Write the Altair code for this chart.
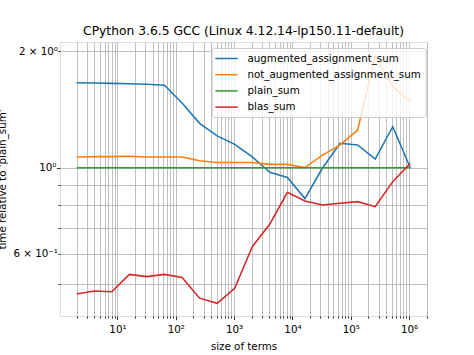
import altair as alt
import pandas as pd

# ---- data ----
terms = [2, 4, 8, 16, 32, 64, 128, 256, 512, 1024, 2048, 4096, 8192, 16384,
         32768, 65536, 131072, 262144, 524288, 1048576]
augmented_assignment_sum = [1.658, 1.655, 1.652, 1.648, 1.643, 1.633, 1.47, 1.302, 1.208, 1.149,
                            1.066, 0.973, 0.944, 0.832, 0.998, 1.156, 1.145, 1.053, 1.276, 1.0]
not_augmented_assignment_sum = [1.066, 1.068, 1.068, 1.070, 1.066, 1.066, 1.066, 1.042, 1.032, 1.032,
                                1.032, 1.020, 1.020, 1.001, 1.078, 1.145, 1.25, 1.95, 1.62, 1.481]
plain_sum = [1.0, 1.0, 1.0, 1.0, 1.0, 1.0, 1.0, 1.0, 1.0, 1.0,
             1.0, 1.0, 1.0, 1.0, 1.0, 1.0, 1.0, 1.0, 1.0, 1.0]
blas_sum = [0.4717, 0.480, 0.478, 0.530, 0.523, 0.530, 0.520, 0.460, 0.446, 0.488,
            0.625, 0.715, 0.864, 0.820, 0.801, 0.809, 0.817, 0.793, 0.920, 1.027]

series_names = ["augmented_assignment_sum", "not_augmented_assignment_sum", "plain_sum", "blas_sum"]
series_values = [augmented_assignment_sum, not_augmented_assignment_sum, plain_sum, blas_sum]
series_colors = ["#1f77b4", "#ff7f0e", "#2ca02c", "#d62728"]

x_major_values = [10, 100, 1000, 10000, 100000, 1000000]
x_major_labels = ["10¹", "10²", "10³", "10⁴", "10⁵", "10⁶"]
x_tick_values = [m * 10 ** e for e in range(0, 7) for m in range(1, 10) if 2 <= m * 10 ** e <= 2000000]

y_tick_values = [0.5, 0.6, 0.7, 0.8, 0.9, 1, 2]
y_label_values = [0.6, 1, 2]
y_label_texts = ["6 × 10⁻¹", "10⁰", "2 × 10⁰"]
y_major_values = [1]

title_text = "CPython 3.6.5 GCC (Linux 4.12.14-lp150.11-default)"
x_title = "size of terms"
y_title = "time relative to 'plain_sum'"

rows = []
for name, vals in zip(series_names, series_values):
    for i, (t, v) in enumerate(zip(terms, vals)):
        rows.append({"series": name, "terms": t, "value": v, "order": i})
df = pd.DataFrame(rows)


def label_expr(values, labels):
    expr = "''"
    for v, l in reversed(list(zip(values, labels))):
        expr = f"datum.value == {v} ? '{l}' : ({expr})"
    return expr


def tick_cond(majors):
    arr = "[" + ",".join(str(m) for m in majors) + "]"
    return {"condition": {"test": f"indexof({arr}, datum.value) >= 0", "value": 3.6}, "value": 2.1}


FONT = "DejaVu Sans"

x_axis = alt.Axis(
    values=x_tick_values, labelExpr=label_expr(x_major_values, x_major_labels),
    grid=True, gridColor="#b0b0b0", gridWidth=0.8, domain=False,
    tickSize=tick_cond(x_major_values), tickColor="#000", tickWidth=0.8,
    labelFont=FONT, labelFontSize=10.3, labelColor="#000", labelPadding=5,
    labelOverlap=False, labelFlush=False,
    title=x_title, titleFont=FONT, titleFontSize=10.3, titleFontWeight="normal",
    titleColor="#000", titleBaseline="alphabetic", titleY=33,
)
y_axis = alt.Axis(
    values=y_tick_values, labelExpr=label_expr(y_label_values, y_label_texts),
    grid=True, gridColor="#b0b0b0", gridWidth=0.8, domain=False,
    tickSize=tick_cond(y_major_values), tickColor="#000", tickWidth=0.8,
    labelFont=FONT, labelFontSize=10.3, labelColor="#000", labelPadding=0.5,
    labelOverlap=False, labelFlush=False,
    title=y_title, titleFont=FONT, titleFontSize=10.3, titleFontWeight="normal",
    titleColor="#000", titleX=-52.5, titleY=137,
)

chart = alt.Chart(df).mark_line(strokeWidth=1.55, clip=True).encode(
    x=alt.X("terms:Q", scale=alt.Scale(type="log", domain=[1.035, 2027000], nice=False, zero=False), axis=x_axis),
    y=alt.Y("value:Q", scale=alt.Scale(type="log", domain=[0.4137, 2.113], nice=False, zero=False), axis=y_axis),
    color=alt.Color("series:N", scale=alt.Scale(domain=series_names, range=series_colors),
                    sort=series_names,
                    legend=alt.Legend(
                        title=None, orient="none", legendX=151.7, legendY=6,
                        symbolType="M-1.25,0H2.82", symbolSize=121, symbolStrokeWidth=1.5,
                        symbolFillColor="transparent",
                        labelFont=FONT, labelFontSize=10.3, labelColor="#000", labelLimit=0,
                        labelOffset=18.8, padding=4, rowPadding=4.2,
                        fillColor="rgba(255,255,255,0.8)", strokeColor="#cccccc",
                        cornerRadius=2.5,
                    )),
    order=alt.Order("order:Q"),
).properties(
    width=367, height=274,
    title=alt.TitleParams(title_text, font=FONT, fontSize=12.3, fontWeight="normal",
                          color="#000", anchor="middle", offset=5),
    autosize=alt.AutoSizeParams(type="none"),
    padding={"left": 60, "top": 42, "right": 47, "bottom": 39},
).configure_view(
    stroke="#222", strokeWidth=1,
).configure(background="white")

chart.save("out.html", embed_options={"renderer": "svg", "actions": False})
